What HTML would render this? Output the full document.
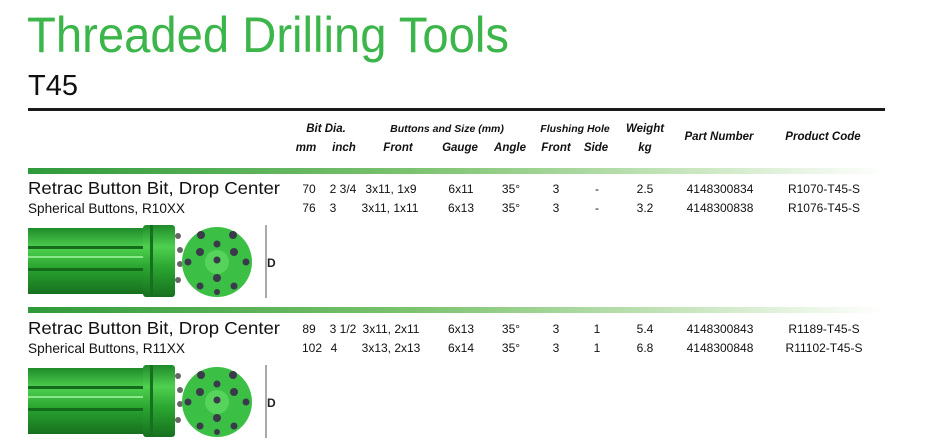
<!DOCTYPE html>
<html><head><meta charset="utf-8"><style>
html,body{margin:0;padding:0;background:#fff;}
svg{display:block;}
text{font-family:"Liberation Sans",sans-serif;}
.h{font-size:11.5px;font-weight:bold;font-style:italic;fill:#111;text-anchor:middle;}
.d{font-size:12px;fill:#111;text-anchor:middle;}
</style></head><body>
<svg width="945" height="448" viewBox="0 0 945 448" xmlns="http://www.w3.org/2000/svg">
<defs>
<linearGradient id="g" x1="0" x2="1" y1="0" y2="0">
<stop offset="0" stop-color="#2f9a3a"/><stop offset="0.45" stop-color="#7cc36f"/><stop offset="0.8" stop-color="#cfe9c6"/><stop offset="1" stop-color="#ffffff"/>
</linearGradient>
<linearGradient id="bg" x1="0" x2="0" y1="0" y2="1">
<stop offset="0" stop-color="#1f8a2a"/><stop offset="0.3" stop-color="#4fd04f"/><stop offset="0.6" stop-color="#2aa530"/><stop offset="1" stop-color="#17701f"/>
</linearGradient>
<g id="bit">
<rect x="28" y="228" width="118" height="66" fill="url(#bg)"/>
<rect x="28" y="246" width="118" height="3" fill="#156b1c"/>
<rect x="28" y="268" width="118" height="3" fill="#156b1c"/>
<rect x="28" y="256" width="118" height="2" fill="#8ae88a"/>
<rect x="143" y="225" width="32" height="72" rx="3" fill="url(#bg)"/>
<rect x="150" y="225" width="3" height="72" fill="#17701f"/>
<circle cx="178" cy="236" r="3" fill="#666"/><circle cx="180" cy="250" r="3" fill="#666"/><circle cx="180" cy="264" r="3" fill="#666"/><circle cx="178" cy="280" r="3" fill="#666"/>
<circle cx="217" cy="262" r="35" fill="#3bbf45"/>
<circle cx="217" cy="262" r="12" fill="#55d35a"/>
<g fill="#3a3a4a">
<circle cx="201" cy="235" r="4"/><circle cx="233" cy="235" r="4"/><circle cx="217" cy="244" r="3.5"/>
<circle cx="200" cy="252" r="4"/><circle cx="234" cy="252" r="4"/><circle cx="217" cy="260" r="3.5"/>
<circle cx="188" cy="262" r="3.5"/><circle cx="246" cy="262" r="3.5"/><circle cx="217" cy="278" r="4"/>
<circle cx="200" cy="286" r="3.5"/><circle cx="234" cy="286" r="3.5"/><circle cx="217" cy="292" r="3"/>
</g>
<line x1="266" y1="225" x2="266" y2="298" stroke="#555" stroke-width="1"/>
<text x="267" y="267" font-size="12" font-weight="bold" fill="#222">D</text>
</g>
</defs>
<text x="27" y="52" font-size="50" fill="#3cb54a" textLength="482" lengthAdjust="spacingAndGlyphs">Threaded Drilling Tools</text>
<text x="28" y="95" font-size="29" fill="#111">T45</text>
<rect x="28" y="108" width="857" height="3" fill="#1a1a1a"/>
<text class="h" x="326" y="132">Bit Dia.</text>
<text class="h" x="306" y="151">mm</text><text class="h" x="344" y="151">inch</text>
<text class="h" x="447" y="132" style="font-size:10.5px">Buttons and Size (mm)</text>
<text class="h" x="398" y="151">Front</text><text class="h" x="460" y="151">Gauge</text><text class="h" x="510" y="151">Angle</text>
<text class="h" x="575" y="132" style="font-size:10.5px">Flushing Hole</text>
<text class="h" x="556" y="151">Front</text><text class="h" x="596" y="151">Side</text>
<text class="h" x="645" y="132">Weight</text><text class="h" x="645" y="151">kg</text>
<text class="h" x="719" y="140">Part Number</text><text class="h" x="823" y="140">Product Code</text>
<rect x="28" y="168" width="857" height="6" fill="url(#g)"/>
<text x="28" y="194" font-size="17.5" fill="#111" textLength="252" lengthAdjust="spacingAndGlyphs">Retrac Button Bit, Drop Center</text>
<text x="28" y="213" font-size="14" fill="#111" textLength="157" lengthAdjust="spacingAndGlyphs">Spherical Buttons, R10XX</text>
<g class="d">
<text x="309" y="193">70</text><text x="343" y="193">2 3/4</text><text x="391" y="193">3x11, 1x9</text><text x="461" y="193">6x11</text><text x="511" y="193">35°</text><text x="556" y="193">3</text><text x="597" y="193">-</text><text x="645" y="193">2.5</text><text x="720" y="193">4148300834</text><text x="824" y="193">R1070-T45-S</text>
<text x="309" y="212">76</text><text x="333" y="212">3</text><text x="390" y="212">3x11, 1x11</text><text x="461" y="212">6x13</text><text x="511" y="212">35°</text><text x="556" y="212">3</text><text x="597" y="212">-</text><text x="645" y="212">3.2</text><text x="720" y="212">4148300838</text><text x="824" y="212">R1076-T45-S</text>
</g>
<use href="#bit"/>
<rect x="28" y="307" width="857" height="6" fill="url(#g)"/>
<text x="28" y="334" font-size="17.5" fill="#111" textLength="252" lengthAdjust="spacingAndGlyphs">Retrac Button Bit, Drop Center</text>
<text x="28" y="353" font-size="14" fill="#111" textLength="157" lengthAdjust="spacingAndGlyphs">Spherical Buttons, R11XX</text>
<g class="d">
<text x="309" y="333">89</text><text x="343" y="333">3 1/2</text><text x="391" y="333">3x11, 2x11</text><text x="461" y="333">6x13</text><text x="511" y="333">35°</text><text x="556" y="333">3</text><text x="597" y="333">1</text><text x="645" y="333">5.4</text><text x="720" y="333">4148300843</text><text x="824" y="333">R1189-T45-S</text>
<text x="312" y="352">102</text><text x="334" y="352">4</text><text x="391" y="352">3x13, 2x13</text><text x="461" y="352">6x14</text><text x="511" y="352">35°</text><text x="556" y="352">3</text><text x="597" y="352">1</text><text x="645" y="352">6.8</text><text x="720" y="352">4148300848</text><text x="824" y="352">R11102-T45-S</text>
</g>
<use href="#bit" transform="translate(0,140)"/>
</svg>
</body></html>
